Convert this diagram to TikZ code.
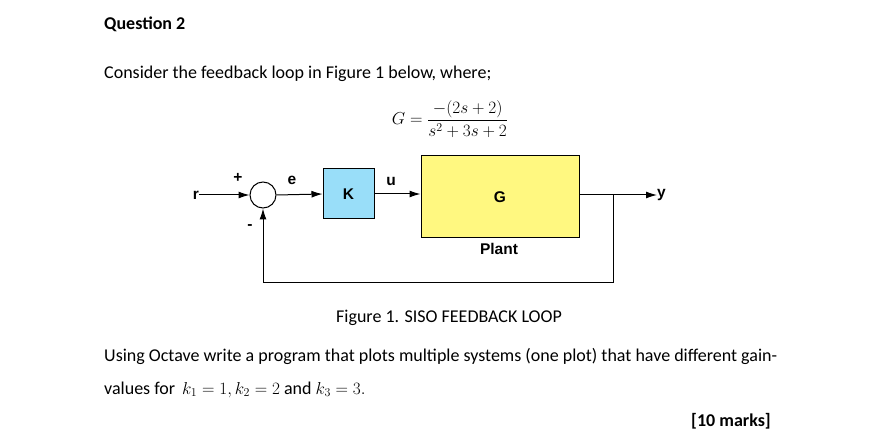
\documentclass[tikz,border=0pt]{standalone}
\usepackage{fontspec}
\setmainfont{Carlito}
\newfontfamily\arialf{Liberation Sans}
\usetikzlibrary{arrows.meta}
\begin{document}
\begin{tikzpicture}[x=1pt,y=-1pt,
  txt/.style={anchor=base west,inner sep=0,font=\fontsize{18}{21}\selectfont},
  lbl/.style={inner sep=0,font=\arialf\bfseries\fontsize{15.5}{18}\selectfont},
  sig/.style={line width=1pt,-{Latex[length=11pt,width=7pt]}},
  ln/.style={line width=1pt}]
\useasboundingbox (0,0) rectangle (896,438);
\node[txt,font=\bfseries\fontsize{18}{21}\selectfont] (q) at (104,30) {Question 2};
\node[txt] (c) at (104,79) {Consider the feedback loop in Figure 1 below, where;};
\node[inner sep=0,font=\fontsize{18}{21}\selectfont] (eq) at (450,119) {$G=\displaystyle\frac{-(2s+2)}{s^2+3s+2}$};
% diagram
\node[circle,draw,line width=1pt,minimum size=26pt,inner sep=0] (sum) at (263,195) {};
\node[draw,line width=1pt,fill=cyan!40,minimum width=51pt,minimum height=50pt,inner sep=0,lbl] (K) at (348.5,194) {K};
\node[draw,line width=1pt,fill=yellow!50,minimum width=158pt,minimum height=82pt,inner sep=0,lbl] (G) at (500,197) {G};
\node[lbl] (r) at (196,195) {r};
\node[lbl,anchor=west] (y) at (657,195) {y};
\node[lbl] (pl) at (499,249) {Plant};
\node[lbl] (plus) at (238,178) {+};
\node[lbl] (minus) at (250,227) {-};
\node[lbl] (e) at (292,180) {e};
\node[lbl] (u) at (391,181) {u};
\coordinate (br) at (613,195);
\coordinate (bot) at (613,282);
\coordinate (bl) at (263,282);
\draw[sig] (r.east) -- (sum.west);
\draw[sig] (sum.east) -- (K.west);
\draw[sig] (K.east) -- (K.east -| G.west);
\draw[sig] (G.east |- br) -- (y.west);
\draw[ln] (br) -- (bot) -- (bl);
\draw[sig] (bl) -- (sum.south);
\node[txt,anchor=base] (fig) at (449,322) {Figure 1. SISO FEEDBACK LOOP};
\node[txt] (t1) at (104,361) {Using Octave write a program that plots multiple systems (one plot) that have different gain-};
\node[txt] (t2) at (104,394) {values for $\,k_1=1, k_2=2$ and $k_3=3.$};
\node[txt,anchor=base east,font=\bfseries\fontsize{18}{21}\selectfont] (m) at (771,426) {[10 marks]};
\end{tikzpicture}
\end{document}
